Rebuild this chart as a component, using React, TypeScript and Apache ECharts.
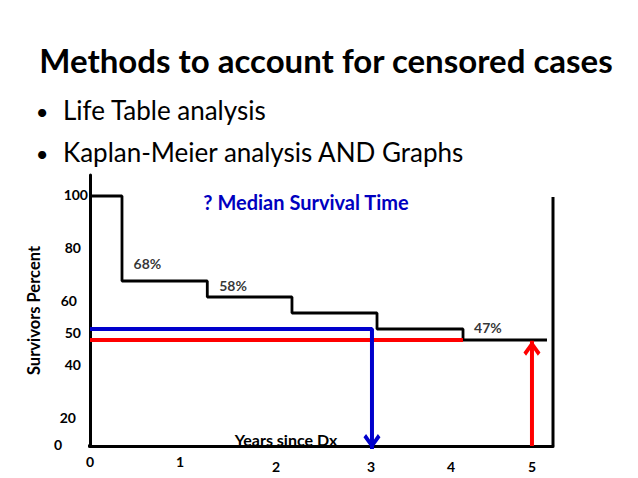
import React, { useEffect, useRef } from "react";
import * as echarts from "echarts";

// ---- data (y in the picture's own drawn scale) ----
const stepX = [0, 0.362, 1.327, 2.285, 3.247, 4.22, 5.17];
const stepY = [100, 66, 59.6, 53.2, 46.8, 42.4, 42.4];

const medianX = [0, 3.19, 3.19];
const medianY = [46.8, 46.8, -1.2];

const redX = [0, 4.22];
const redY = [42.4, 42.4];

const redArrowX = [5.0, 5.0];
const redArrowY = [0, 42.1];

const frameX = [5.238, 5.238];
const frameY = [0, 99.6];

const stubX = [-0.113, 0];
const stubY = [0, 0];

const annoText = ["68%", "58%", "47%"];
const annoX = [0.65, 1.618, 4.502];
const annoY = [73.2, 64.4, 47.6];

const yTickVals = [100.8, 79.6, 58.4, 45.6, 32.8, 11.6, 0.8];
const yTickLabels = ["100", "80", "60", "50", "40", "20", "0"];

const xTickVals = [0, 1.018, 2.104, 3.179, 4.084, 5.0];
const xTickLabels = ["0", "1", "2", "3", "4", "5"];

const titleText = "Methods to account for censored cases";
const bullets = ["Life Table analysis", "Kaplan-Meier analysis AND Graphs"];

// ---- styling ----
const FONT = "Lato";
const yPad = [0, 7, 11, 7, 7, 12, 26];
const xPadTop = [0, 0, 5, 5, 5, 5];
const upChevron = "path://M8.5,0 L17,11.8 L14.4,15 L8.5,6.5 L2.6,15 L0,11.8 Z";
const downChevron = "path://M8.5,15 L17,3.2 L14.4,0 L8.5,8.5 L2.6,0 L0,3.2 Z";

function nearestIndex(arr: number[], v: number) {
  let best = 0;
  for (let i = 1; i < arr.length; i++) {
    if (Math.abs(arr[i] - v) < Math.abs(arr[best] - v)) best = i;
  }
  return best;
}

const zip = (xs: number[], ys: number[]) => xs.map((x, i) => [x, ys[i]]);

export default function App() {
  const ref = useRef<HTMLDivElement>(null);
  useEffect(() => {
    if (!ref.current) return;
    const chart = echarts.init(ref.current, undefined, { renderer: "svg" });

    const yRich: Record<string, any> = {};
    yPad.forEach((p, i) => {
      yRich["y" + i] = {
        padding: [0, p, 0, 0],
        fontFamily: FONT,
        fontWeight: "bold",
        fontSize: 14,
        color: "#000",
      };
    });
    const xRich: Record<string, any> = {};
    xPadTop.forEach((p, i) => {
      xRich["x" + i] = {
        padding: [p, 0, 0, 0],
        fontFamily: FONT,
        fontWeight: "bold",
        fontSize: 14,
        color: "#000",
      };
    });

    const medianData: any[] = zip(medianX, medianY).map((v) => ({ value: v }));
    medianData[medianData.length - 1] = {
      value: medianData[medianData.length - 1].value,
      symbol: downChevron,
      symbolSize: [17, 15],
      symbolOffset: [0, -7.5],
    };
    const redArrowData: any[] = zip(redArrowX, redArrowY).map((v) => ({ value: v }));
    redArrowData[redArrowData.length - 1] = {
      value: redArrowData[redArrowData.length - 1].value,
      symbol: upChevron,
      symbolSize: [17, 15],
      symbolOffset: [0, 7.5],
    };

    const plainLine = (data: any, color: string, width: number, z: number) => ({
      type: "line",
      data,
      symbol: "none",
      silent: true,
      clip: false,
      itemStyle: { color, borderWidth: 0 },
      lineStyle: { color, width },
      z,
    });

    const option: any = {
      animation: false,
      backgroundColor: "#fff",
      textStyle: { fontFamily: FONT },
      grid: { left: 90, right: 85, top: 175, bottom: 32, containLabel: false },
      xAxis: {
        type: "value",
        min: 0,
        max: 5.238,
        splitLine: { show: false },
        axisTick: { show: false },
        axisLine: { show: true, onZero: false, lineStyle: { color: "#000", width: 3 } },
        axisLabel: {
          customValues: xTickVals,
          margin: 8,
          formatter: (v: number) => {
            const i = nearestIndex(xTickVals, v);
            return `{x${i}|${xTickLabels[i]}}`;
          },
          rich: xRich,
        },
      },
      yAxis: {
        type: "value",
        min: 0,
        max: 108.4,
        splitLine: { show: false },
        axisTick: { show: false },
        axisLine: { show: true, onZero: false, lineStyle: { color: "#000", width: 3 } },
        name: "Survivors Percent",
        nameLocation: "middle",
        nameGap: 46,
        nameTextStyle: { fontFamily: FONT, fontWeight: "bold", fontSize: 16.5, color: "#000" },
        axisLabel: {
          customValues: yTickVals,
          margin: 2,
          formatter: (v: number) => {
            const i = nearestIndex(yTickVals, v);
            return `{y${i}|${yTickLabels[i]}}`;
          },
          rich: yRich,
        },
      },
      series: [
        {
          ...plainLine(zip(stepX, stepY), "#000", 2.8, 2),
          step: "end",
        },
        plainLine(zip(frameX, frameY), "#000", 3, 2),
        plainLine(zip(stubX, stubY), "#000", 3, 2),
        plainLine(zip(redX, redY), "#ff0000", 4, 3),
        plainLine(redArrowData, "#ff0000", 4, 3),
        plainLine(medianData, "#0000cc", 4, 4),
        {
          type: "scatter",
          data: annoText.map((t, i) => ({ name: t, value: [annoX[i], annoY[i]] })),
          symbolSize: 1,
          silent: true,
          itemStyle: { color: "rgba(0,0,0,0)" },
          label: {
            show: true,
            position: "inside",
            formatter: "{b}",
            fontFamily: FONT,
            fontWeight: "bold",
            fontSize: 14,
            color: "#000",
          },
          z: 5,
        },
      ],
      graphic: [
        {
          type: "text",
          x: 326,
          y: 60,
          style: {
            text: titleText,
            font: `bold 33px ${FONT}`,
            fill: "#000",
            align: "center",
            verticalAlign: "middle",
            textAlign: "center",
            textVerticalAlign: "middle",
          },
        },
        ...bullets.flatMap((b, i) => [
          {
            type: "text",
            x: 42,
            y: 111 + i * 42,
            style: {
              text: "•",
              font: `22px ${FONT}`,
              fill: "#000",
              align: "center",
              verticalAlign: "middle",
              textAlign: "center",
              textVerticalAlign: "middle",
            },
          },
          {
            type: "text",
            x: 63,
            y: 110 + i * 42,
            style: {
              text: b,
              font: `26px ${FONT}`,
              fill: "#000",
              align: "left",
              verticalAlign: "middle",
              textAlign: "left",
              textVerticalAlign: "middle",
            },
          },
        ]),
        {
          type: "text",
          x: 306,
          y: 202,
          style: {
            text: "? Median Survival Time",
            font: `bold 20px ${FONT}`,
            fill: "#0000c0",
            align: "center",
            verticalAlign: "middle",
            textAlign: "center",
            textVerticalAlign: "middle",
          },
        },
        {
          type: "text",
          x: 286,
          y: 439,
          style: {
            text: "Years since Dx",
            font: `bold 16px ${FONT}`,
            fill: "#000",
            align: "center",
            verticalAlign: "middle",
            textAlign: "center",
            textVerticalAlign: "middle",
          },
        },
      ],
    };
    chart.setOption(option);
    return () => chart.dispose();
  }, []);

  return (
    <div
      ref={ref}
      style={{ position: "absolute", left: 0, top: 0, width: 638, height: 478, background: "#fff" }}
    />
  );
}
